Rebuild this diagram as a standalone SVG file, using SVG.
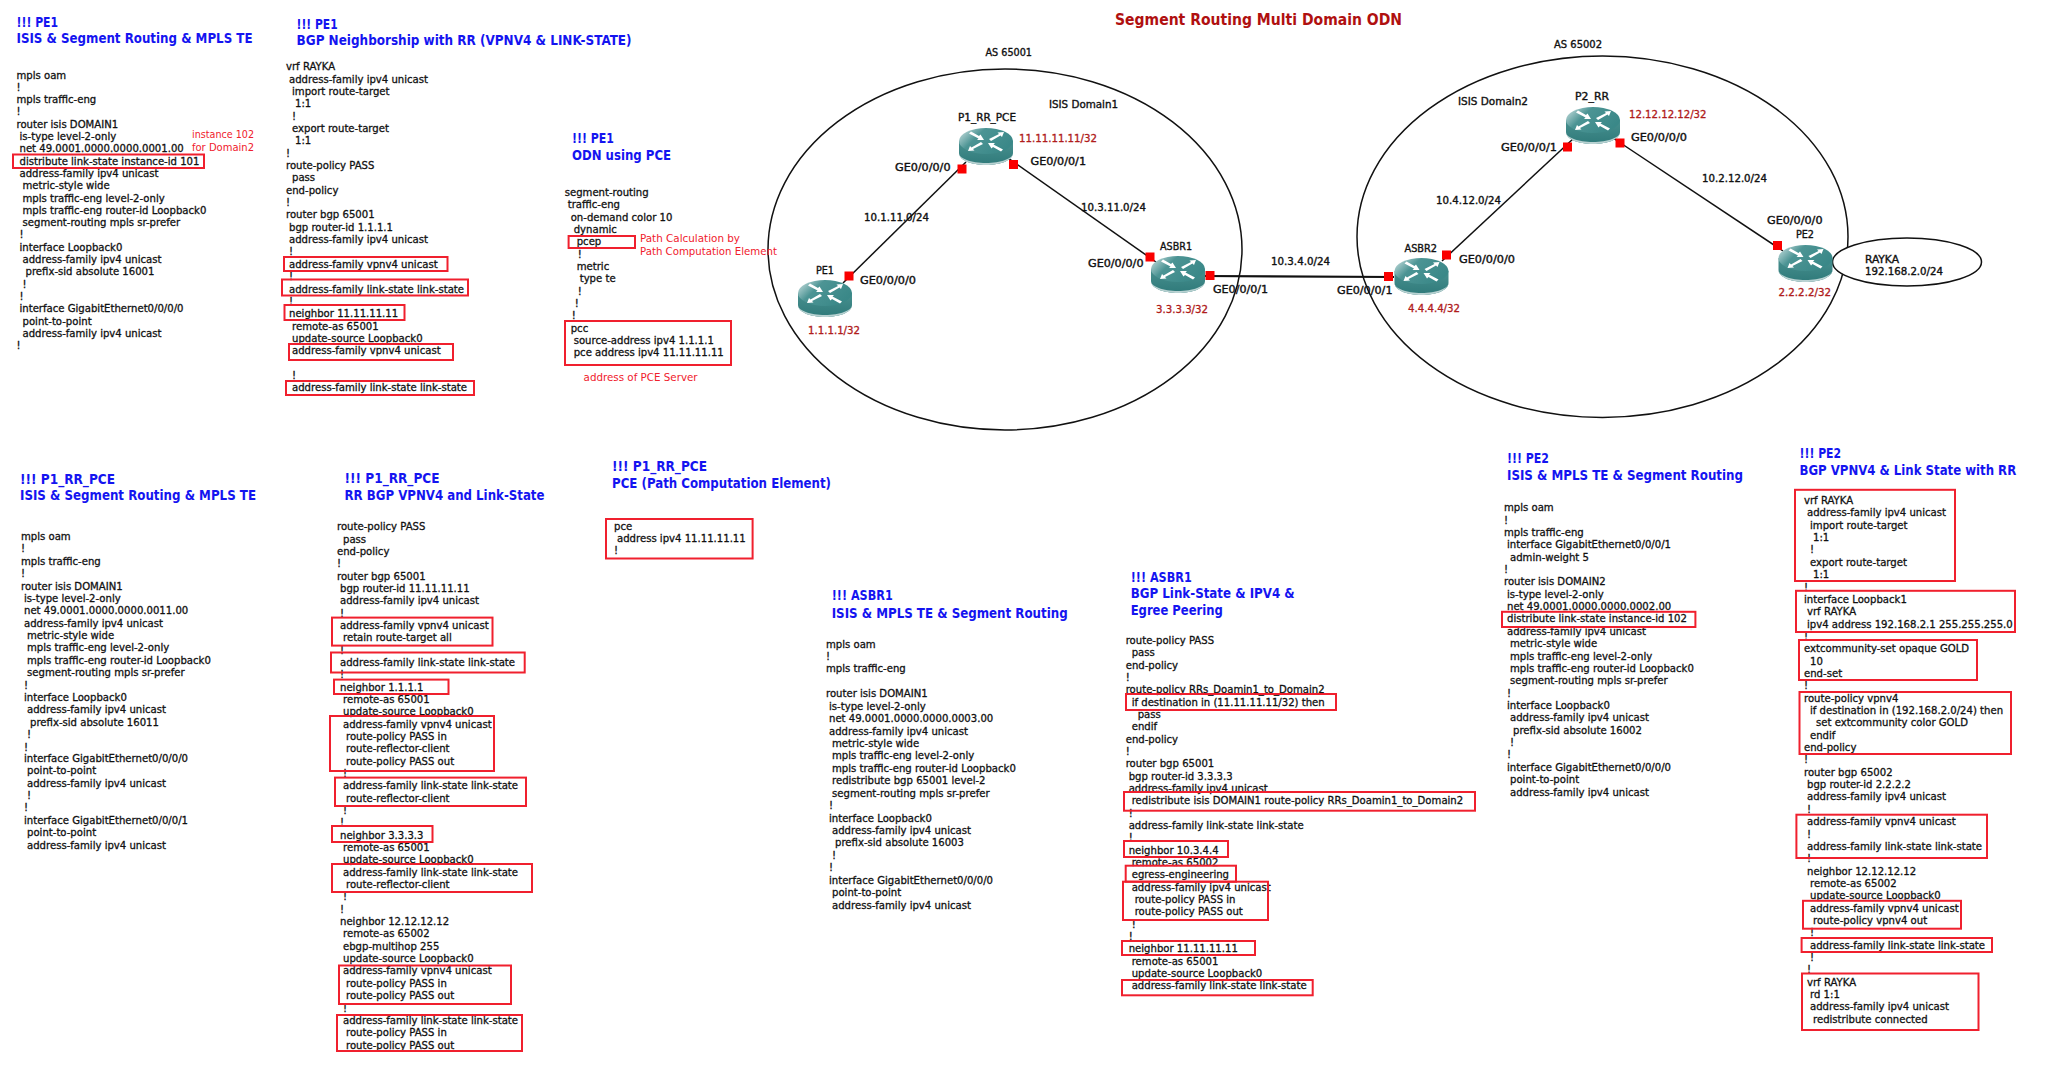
<svg xmlns="http://www.w3.org/2000/svg" width="2048" height="1074" viewBox="0 0 2048 1074" xml:space="default">
<style>
text{font-family:"DejaVu Sans Condensed","DejaVu Sans","Liberation Sans",sans-serif;font-stretch:condensed}
.c{font-family:"DejaVu Sans","Liberation Sans",sans-serif;font-stretch:normal;font-size:10.1px;fill:#111;stroke:#111;stroke-width:.3px}
.t{font-size:14px;font-weight:bold;fill:#1414f0}
.n{font-size:10.6px;fill:#111;stroke:#111;stroke-width:.35px}
.ip{font-size:10.6px;fill:#b01c1c;stroke:#b01c1c;stroke-width:.3px}
.r{font-size:10.6px;fill:#f0202c}
.b{fill:none;stroke:#f0202e;stroke-width:2}
.l{stroke:#111;stroke-width:1.5;fill:none}
.e{stroke:#111;stroke-width:1.5;fill:none}
.p{fill:#fa0000}
</style>
<defs>
<linearGradient id="rg" x1="0" y1="0" x2="1" y2=".5"><stop offset="0" stop-color="#d4e6e6"/><stop offset=".4" stop-color="#4c9494"/><stop offset="1" stop-color="#3a8888"/></linearGradient>
<linearGradient id="rb" x1="0" y1="0" x2="0" y2="1"><stop offset="0" stop-color="#48908f"/><stop offset="1" stop-color="#2f7a7a"/></linearGradient>
<g id="router">
<path d="M0 13V25C0 32 12 37 27 37S54 32 54 25V13Z" fill="url(#rb)"/>
<path d="M0 25C0 32 12 37 27 37S54 32 54 25C54 30.500 42 35 27 35S0 30.500 0 25Z" fill="#b9d2d2"/>
<ellipse cx="27" cy="13" rx="27" ry="13" fill="url(#rg)"/>
<path d="M10 5.500L12 3.500L20 8L21.500 6.500L25 12L18 12L19.500 10.500ZM44 21.500L42 23.500L34 19L32.500 20.500L29 15L36 15L34.500 16.500ZM30 11L40 6L38.500 4.500L45 4L43 9L41.500 7.500L32 13ZM24 16L14 21L15.500 22.500L9 23L11 18L12.500 19.500L22 14Z" fill="#fff"/>
</g>
</defs>
<rect width="2048" height="1074" fill="#fff"/>

<g id="title"><text x="1115" y="25" style="font-size:15.5px;font-weight:bold;fill:#b01010" textLength="287" lengthAdjust="spacingAndGlyphs">Segment Routing Multi Domain ODN</text></g>

<g id="as65001"><ellipse class="e" cx="1005" cy="249.5" rx="237" ry="180.5"/><text class="n" x="985.5" y="56" textLength="46.5" lengthAdjust="spacingAndGlyphs">AS 65001</text><text class="n" x="1049" y="107.5" textLength="69" lengthAdjust="spacingAndGlyphs">ISIS Domain1</text></g>
<g id="as65002"><ellipse class="e" cx="1602.5" cy="236.7" rx="245.5" ry="180.7"/><text class="n" x="1554" y="47.5" textLength="48" lengthAdjust="spacingAndGlyphs">AS 65002</text><text class="n" x="1458" y="104.5" textLength="70" lengthAdjust="spacingAndGlyphs">ISIS Domain2</text></g>
<g id="rayka"><ellipse cx="1907" cy="262" rx="74.5" ry="24" fill="#fff" stroke="#111" stroke-width="1.5"/><text class="n" x="1865" y="262.5" textLength="34" lengthAdjust="spacingAndGlyphs">RAYKA</text><text class="n" x="1865" y="274.5" textLength="78" lengthAdjust="spacingAndGlyphs">192.168.2.0/24</text></g>

<g id="connectors">
<line class="l" x1="843" y1="283" x2="966" y2="162"/>
<line class="l" x1="1008" y1="158" x2="1156" y2="262"/>
<line class="l" style="stroke-width:2.2" x1="1204" y1="276" x2="1394" y2="277"/>
<line class="l" x1="1442" y1="261" x2="1574" y2="138"/>
<line class="l" x1="1613" y1="138" x2="1783" y2="251"/>
</g>

<g id="PE1"><use href="#router" x="798" y="280"/><text class="n" x="816" y="273.5" textLength="18" lengthAdjust="spacingAndGlyphs">PE1</text><text class="ip" x="808" y="333.5" textLength="52" lengthAdjust="spacingAndGlyphs">1.1.1.1/32</text></g>
<g id="P1_RR_PCE"><use href="#router" x="959" y="128"/><text class="n" x="958" y="120.5" textLength="58" lengthAdjust="spacingAndGlyphs">P1_RR_PCE</text><text class="ip" x="1019" y="141.5" textLength="78" lengthAdjust="spacingAndGlyphs">11.11.11.11/32</text></g>
<g id="ASBR1"><use href="#router" x="1151" y="256"/><text class="n" x="1160" y="249.5" textLength="32" lengthAdjust="spacingAndGlyphs">ASBR1</text><text class="ip" x="1156" y="312.5" textLength="52" lengthAdjust="spacingAndGlyphs">3.3.3.3/32</text></g>
<g id="ASBR2"><use href="#router" x="1394.5" y="258"/><text class="n" x="1404.5" y="251.5" textLength="32.5" lengthAdjust="spacingAndGlyphs">ASBR2</text><text class="ip" x="1408" y="311.5" textLength="52" lengthAdjust="spacingAndGlyphs">4.4.4.4/32</text></g>
<g id="P2_RR"><use href="#router" x="1566" y="107"/><text class="n" x="1575" y="99.5" textLength="34" lengthAdjust="spacingAndGlyphs">P2_RR</text><text class="ip" x="1629" y="117.5" textLength="77.5" lengthAdjust="spacingAndGlyphs">12.12.12.12/32</text></g>
<g id="PE2"><use href="#router" x="1778.5" y="245"/><text class="n" x="1796" y="237.5" textLength="18" lengthAdjust="spacingAndGlyphs">PE2</text><text class="ip" x="1778.5" y="295.5" textLength="52.5" lengthAdjust="spacingAndGlyphs">2.2.2.2/32</text></g>

<g id="ports">
<rect class="p" x="957.5" y="164.5" width="9" height="9"/><rect class="p" x="1009" y="160" width="9" height="9"/><rect class="p" x="844.5" y="271.5" width="9" height="9"/><rect class="p" x="1145.5" y="252.5" width="9" height="9"/><rect class="p" x="1205.5" y="271" width="9" height="9"/><rect class="p" x="1384" y="272" width="9" height="9"/><rect class="p" x="1442" y="250.5" width="9" height="9"/><rect class="p" x="1563" y="142.5" width="9" height="9"/><rect class="p" x="1615.5" y="138.5" width="9" height="9"/><rect class="p" x="1773" y="241" width="9" height="9"/>
</g>

<g id="link-labels">
<text class="n" x="895" y="170.5" textLength="55.5" lengthAdjust="spacingAndGlyphs">GE0/0/0/0</text>
<text class="n" x="1030.5" y="164.5" textLength="55.5" lengthAdjust="spacingAndGlyphs">GE0/0/0/1</text>
<text class="n" x="864" y="220.5" textLength="65" lengthAdjust="spacingAndGlyphs">10.1.11.0/24</text>
<text class="n" x="1081" y="210.5" textLength="65" lengthAdjust="spacingAndGlyphs">10.3.11.0/24</text>
<text class="n" x="1088" y="266.5" textLength="55.5" lengthAdjust="spacingAndGlyphs">GE0/0/0/0</text>
<text class="n" x="1271" y="264.5" textLength="59" lengthAdjust="spacingAndGlyphs">10.3.4.0/24</text>
<text class="n" x="1213" y="292.5" textLength="55" lengthAdjust="spacingAndGlyphs">GE0/0/0/1</text>
<text class="n" x="860" y="283.5" textLength="56" lengthAdjust="spacingAndGlyphs">GE0/0/0/0</text>
<text class="n" x="1631" y="140.5" textLength="56" lengthAdjust="spacingAndGlyphs">GE0/0/0/0</text>
<text class="n" x="1501" y="150.5" textLength="56" lengthAdjust="spacingAndGlyphs">GE0/0/0/1</text>
<text class="n" x="1436" y="203.5" textLength="65" lengthAdjust="spacingAndGlyphs">10.4.12.0/24</text>
<text class="n" x="1702" y="181.5" textLength="65" lengthAdjust="spacingAndGlyphs">10.2.12.0/24</text>
<text class="n" x="1767" y="223.5" textLength="55.5" lengthAdjust="spacingAndGlyphs">GE0/0/0/0</text>
<text class="n" x="1459" y="262.5" textLength="56" lengthAdjust="spacingAndGlyphs">GE0/0/0/0</text>
<text class="n" x="1337" y="293.5" textLength="55.5" lengthAdjust="spacingAndGlyphs">GE0/0/0/1</text>
</g>

<g id="cfg-pe1-isis">
<text class="t" x="16.5" y="27" textLength="41.6" lengthAdjust="spacingAndGlyphs">!!! PE1</text>
<text class="t" x="16.5" y="43" textLength="236" lengthAdjust="spacingAndGlyphs">ISIS &amp; Segment Routing &amp; MPLS TE</text>
<text class="c"><tspan x="16.5" y="78.500">mpls oam</tspan><tspan x="16.5" y="90.8">!</tspan><tspan x="16.5" y="103.1">mpls traffic-eng</tspan><tspan x="16.5" y="115.4">!</tspan><tspan x="16.5" y="127.7">router isis DOMAIN1</tspan><tspan x="19.5" y="140">is-type level-2-only</tspan><tspan x="19.5" y="152.3">net 49.0001.0000.0000.0001.00</tspan><tspan x="19.5" y="164.6">distribute link-state instance-id 101</tspan><tspan x="19.5" y="176.9">address-family ipv4 unicast</tspan><tspan x="22.5" y="189.2">metric-style wide</tspan><tspan x="22.5" y="201.5">mpls traffic-eng level-2-only</tspan><tspan x="22.5" y="213.8">mpls traffic-eng router-id Loopback0</tspan><tspan x="22.5" y="226.1">segment-routing mpls sr-prefer</tspan><tspan x="19.5" y="238.4">!</tspan><tspan x="19.5" y="250.7">interface Loopback0</tspan><tspan x="22.5" y="263">address-family ipv4 unicast</tspan><tspan x="25.5" y="275.3">prefix-sid absolute 16001</tspan><tspan x="22.5" y="287.6">!</tspan><tspan x="19.5" y="299.9">!</tspan><tspan x="19.5" y="312.2">interface GigabitEthernet0/0/0/0</tspan><tspan x="22.5" y="324.5">point-to-point</tspan><tspan x="22.5" y="336.8">address-family ipv4 unicast</tspan><tspan x="16.5" y="349.1">!</tspan></text>
<rect class="b" x="13" y="154.5" width="191" height="13.5"/>
<text class="r" x="192" y="137.5" textLength="62" lengthAdjust="spacingAndGlyphs">instance 102</text>
<text class="r" x="192" y="150.5" textLength="62" lengthAdjust="spacingAndGlyphs">for Domain2</text>
</g>

<g id="cfg-pe1-bgp">
<text class="t" x="296.6" y="29" textLength="41" lengthAdjust="spacingAndGlyphs">!!! PE1</text>
<text class="t" x="296.6" y="45" textLength="335" lengthAdjust="spacingAndGlyphs">BGP Neighborship with RR (VPNV4 &amp; LINK-STATE)</text>
<text class="c"><tspan x="286" y="70.2">vrf RAYKA</tspan><tspan x="289" y="82.55">address-family ipv4 unicast</tspan><tspan x="292" y="94.9">import route-target</tspan><tspan x="295" y="107.25">1:1</tspan><tspan x="292" y="119.6">!</tspan><tspan x="292" y="131.95">export route-target</tspan><tspan x="295" y="144.3">1:1</tspan><tspan x="286" y="156.65">!</tspan><tspan x="286" y="169">route-policy PASS</tspan><tspan x="292" y="181.35">pass</tspan><tspan x="286" y="193.7">end-policy</tspan><tspan x="286" y="206.05">!</tspan><tspan x="286" y="218.4">router bgp 65001</tspan><tspan x="289" y="230.75">bgp router-id 1.1.1.1</tspan><tspan x="289" y="243.1">address-family ipv4 unicast</tspan><tspan x="289" y="255.45">!</tspan><tspan x="289" y="267.8">address-family vpnv4 unicast</tspan><tspan x="289" y="280.15">!</tspan><tspan x="289" y="292.5">address-family link-state link-state</tspan><tspan x="289" y="304.85">!</tspan><tspan x="289" y="317.2">neighbor 11.11.11.11</tspan><tspan x="292" y="329.55">remote-as 65001</tspan><tspan x="292" y="341.9">update-source Loopback0</tspan><tspan x="292" y="354.25">address-family vpnv4 unicast</tspan><tspan x="292" y="378.95">!</tspan><tspan x="292" y="391.3">address-family link-state link-state</tspan></text>
<rect class="b" x="284" y="257" width="163.5" height="14"/><rect class="b" x="282" y="279.5" width="186" height="16"/><rect class="b" x="284.5" y="305" width="120" height="15"/><rect class="b" x="289" y="344" width="164" height="16"/><rect class="b" x="286" y="381" width="188" height="14"/>
</g>

<g id="cfg-pe1-odn">
<text class="t" x="572" y="143" textLength="42" lengthAdjust="spacingAndGlyphs">!!! PE1</text>
<text class="t" x="572" y="160" textLength="99" lengthAdjust="spacingAndGlyphs">ODN using PCE</text>
<text class="c"><tspan x="564.7" y="195.8">segment-routing</tspan><tspan x="567.7" y="208.1">traffic-eng</tspan><tspan x="570.7" y="220.5">on-demand color 10</tspan><tspan x="573.7" y="232.8">dynamic</tspan><tspan x="576.7" y="245.2">pcep</tspan><tspan x="577.7" y="257.5">!</tspan><tspan x="576.7" y="269.9">metric</tspan><tspan x="579.7" y="282.2">type te</tspan><tspan x="577.7" y="294.6">!</tspan><tspan x="574.7" y="306.9">!</tspan><tspan x="571.7" y="319.3">!</tspan><tspan x="570.7" y="331.6">pcc</tspan><tspan x="573.7" y="344">source-address ipv4 1.1.1.1</tspan><tspan x="573.7" y="356.3">pce address ipv4 11.11.11.11</tspan></text>
<rect class="b" x="568.6" y="236" width="66.4" height="12"/><rect class="b" x="565" y="321" width="166" height="44"/>
<text class="r" x="640" y="241.5" textLength="100" lengthAdjust="spacingAndGlyphs">Path Calculation by</text>
<text class="r" x="640" y="254.5" textLength="137" lengthAdjust="spacingAndGlyphs">Path Computation Element</text>
<text class="r" x="583.6" y="380.5" textLength="114" lengthAdjust="spacingAndGlyphs">address of PCE Server</text>
</g>

<g id="cfg-p1-isis">
<text class="t" x="20" y="484" textLength="95" lengthAdjust="spacingAndGlyphs">!!! P1_RR_PCE</text>
<text class="t" x="20" y="500" textLength="236" lengthAdjust="spacingAndGlyphs">ISIS &amp; Segment Routing &amp; MPLS TE</text>
<text class="c"><tspan x="21" y="540">mpls oam</tspan><tspan x="21" y="552.4">!</tspan><tspan x="21" y="564.8">mpls traffic-eng</tspan><tspan x="21" y="577.1">!</tspan><tspan x="21" y="589.5">router isis DOMAIN1</tspan><tspan x="24" y="601.9">is-type level-2-only</tspan><tspan x="24" y="614.3">net 49.0001.0000.0000.0011.00</tspan><tspan x="24" y="626.7">address-family ipv4 unicast</tspan><tspan x="27" y="639">metric-style wide</tspan><tspan x="27" y="651.4">mpls traffic-eng level-2-only</tspan><tspan x="27" y="663.8">mpls traffic-eng router-id Loopback0</tspan><tspan x="27" y="676.2">segment-routing mpls sr-prefer</tspan><tspan x="24" y="688.6">!</tspan><tspan x="24" y="700.9">interface Loopback0</tspan><tspan x="27" y="713.3">address-family ipv4 unicast</tspan><tspan x="30" y="725.7">prefix-sid absolute 16011</tspan><tspan x="27" y="738.1">!</tspan><tspan x="24" y="750.5">!</tspan><tspan x="24" y="761.8">interface GigabitEthernet0/0/0/0</tspan><tspan x="27" y="774.2">point-to-point</tspan><tspan x="27" y="786.6">address-family ipv4 unicast</tspan><tspan x="27" y="799">!</tspan><tspan x="24" y="811.4">!</tspan><tspan x="24" y="823.7">interface GigabitEthernet0/0/0/1</tspan><tspan x="27" y="836.1">point-to-point</tspan><tspan x="27" y="848.5">address-family ipv4 unicast</tspan></text>
</g>

<g id="cfg-p1-bgp">
<text class="t" x="344.5" y="483.4" textLength="95" lengthAdjust="spacingAndGlyphs">!!! P1_RR_PCE</text>
<text class="t" x="344.5" y="499.5" textLength="200" lengthAdjust="spacingAndGlyphs">RR BGP VPNV4 and Link-State</text>
<text class="c"><tspan x="337" y="530.2">route-policy PASS</tspan><tspan x="343" y="542.5">pass</tspan><tspan x="337" y="554.9">end-policy</tspan><tspan x="337" y="567.2">!</tspan><tspan x="337" y="579.6">router bgp 65001</tspan><tspan x="340" y="591.9">bgp router-id 11.11.11.11</tspan><tspan x="340" y="604.2">address-family ipv4 unicast</tspan><tspan x="340" y="616.6">!</tspan><tspan x="340" y="628.9">address-family vpnv4 unicast</tspan><tspan x="343" y="641.3">retain route-target all</tspan><tspan x="340" y="653.6">!</tspan><tspan x="340" y="665.9">address-family link-state link-state</tspan><tspan x="340" y="678.3">!</tspan><tspan x="340" y="690.6">neighbor 1.1.1.1</tspan><tspan x="343" y="703">remote-as 65001</tspan><tspan x="343" y="715.3">update-source Loopback0</tspan><tspan x="343" y="727.6">address-family vpnv4 unicast</tspan><tspan x="346" y="740">route-policy PASS in</tspan><tspan x="346" y="752.3">route-reflector-client</tspan><tspan x="346" y="764.7">route-policy PASS out</tspan><tspan x="343" y="777">!</tspan><tspan x="343" y="789.3">address-family link-state link-state</tspan><tspan x="346" y="801.7">route-reflector-client</tspan><tspan x="343" y="814">!</tspan><tspan x="340" y="826.4">!</tspan><tspan x="340" y="838.7">neighbor 3.3.3.3</tspan><tspan x="343" y="851">remote-as 65001</tspan><tspan x="343" y="863.4">update-source Loopback0</tspan><tspan x="343" y="875.7">address-family link-state link-state</tspan><tspan x="346" y="888.1">route-reflector-client</tspan><tspan x="343" y="900.4">!</tspan><tspan x="340" y="912.7">!</tspan><tspan x="340" y="925.1">neighbor 12.12.12.12</tspan><tspan x="343" y="937.4">remote-as 65002</tspan><tspan x="343" y="949.8">ebgp-multihop 255</tspan><tspan x="343" y="962.1">update-source Loopback0</tspan><tspan x="343" y="974.4">address-family vpnv4 unicast</tspan><tspan x="346" y="986.8">route-policy PASS in</tspan><tspan x="346" y="999.1">route-policy PASS out</tspan><tspan x="343" y="1011.5">!</tspan><tspan x="343" y="1023.8">address-family link-state link-state</tspan><tspan x="346" y="1036.1">route-policy PASS in</tspan><tspan x="346" y="1048.5">route-policy PASS out</tspan></text>
<rect class="b" x="332" y="617.6" width="160.5" height="28"/><rect class="b" x="331" y="652.5" width="193.7" height="20"/><rect class="b" x="334" y="679.6" width="114.5" height="14.4"/><rect class="b" x="330" y="716" width="164" height="55"/><rect class="b" x="335" y="777.6" width="191" height="28.4"/><rect class="b" x="332" y="826" width="100.5" height="16"/><rect class="b" x="332" y="864" width="200" height="28"/><rect class="b" x="339" y="965.5" width="172" height="38.5"/><rect class="b" x="337" y="1015" width="185" height="36"/>
</g>

<g id="cfg-p1-pce">
<text class="t" x="612" y="471" textLength="95" lengthAdjust="spacingAndGlyphs">!!! P1_RR_PCE</text>
<text class="t" x="612" y="488" textLength="219" lengthAdjust="spacingAndGlyphs">PCE (Path Computation Element)</text>
<text class="c"><tspan x="614" y="530">pce</tspan><tspan x="617" y="542">address ipv4 11.11.11.11</tspan><tspan x="614" y="554">!</tspan></text>
<rect class="b" x="606" y="519" width="146.6" height="39.5"/>
</g>

<g id="cfg-asbr1-isis">
<text class="t" x="831.7" y="600" textLength="61" lengthAdjust="spacingAndGlyphs">!!! ASBR1</text>
<text class="t" x="831.7" y="617.6" textLength="236" lengthAdjust="spacingAndGlyphs">ISIS &amp; MPLS TE &amp; Segment Routing</text>
<text class="c"><tspan x="826" y="647.5">mpls oam</tspan><tspan x="826" y="659.9">!</tspan><tspan x="826" y="672.4">mpls traffic-eng</tspan><tspan x="826" y="697.2">router isis DOMAIN1</tspan><tspan x="829" y="709.7">is-type level-2-only</tspan><tspan x="829" y="722.1">net 49.0001.0000.0000.0003.00</tspan><tspan x="829" y="734.5">address-family ipv4 unicast</tspan><tspan x="832" y="747">metric-style wide</tspan><tspan x="832" y="759.4">mpls traffic-eng level-2-only</tspan><tspan x="832" y="771.8">mpls traffic-eng router-id Loopback0</tspan><tspan x="832" y="784.2">redistribute bgp 65001 level-2</tspan><tspan x="832" y="796.7">segment-routing mpls sr-prefer</tspan><tspan x="829" y="809.1">!</tspan><tspan x="829" y="821.5">interface Loopback0</tspan><tspan x="832" y="834">address-family ipv4 unicast</tspan><tspan x="835" y="846.4">prefix-sid absolute 16003</tspan><tspan x="832" y="858.8">!</tspan><tspan x="829" y="871.2">!</tspan><tspan x="829" y="883.7">interface GigabitEthernet0/0/0/0</tspan><tspan x="832" y="896.1">point-to-point</tspan><tspan x="832" y="908.5">address-family ipv4 unicast</tspan></text>
</g>

<g id="cfg-asbr1-bgp">
<text class="t" x="1130.7" y="582" textLength="61" lengthAdjust="spacingAndGlyphs">!!! ASBR1</text>
<text class="t" x="1130.7" y="598" textLength="164" lengthAdjust="spacingAndGlyphs">BGP Link-State &amp; IPV4 &amp;</text>
<text class="t" x="1130.7" y="615" textLength="92" lengthAdjust="spacingAndGlyphs">Egree Peering</text>
<text class="c"><tspan x="1125.7" y="644">route-policy PASS</tspan><tspan x="1131.7" y="656.3">pass</tspan><tspan x="1125.7" y="668.7">end-policy</tspan><tspan x="1125.7" y="681">!</tspan><tspan x="1125.7" y="693.3">route-policy RRs_Doamin1_to_Domain2</tspan><tspan x="1131.7" y="705.7">if destination in (11.11.11.11/32) then</tspan><tspan x="1137.7" y="718">pass</tspan><tspan x="1131.7" y="730.3">endif</tspan><tspan x="1125.7" y="742.6">end-policy</tspan><tspan x="1125.7" y="755">!</tspan><tspan x="1125.7" y="767.3">router bgp 65001</tspan><tspan x="1128.7" y="779.6">bgp router-id 3.3.3.3</tspan><tspan x="1128.7" y="792">address-family ipv4 unicast</tspan><tspan x="1131.7" y="804.3">redistribute isis DOMAIN1 route-policy RRs_Doamin1_to_Domain2</tspan><tspan x="1128.7" y="816.6">!</tspan><tspan x="1128.7" y="829">address-family link-state link-state</tspan><tspan x="1128.7" y="841.3">!</tspan><tspan x="1128.7" y="853.6">neighbor 10.3.4.4</tspan><tspan x="1131.7" y="865.9">remote-as 65002</tspan><tspan x="1131.7" y="878.3">egress-engineering</tspan><tspan x="1131.7" y="890.6">address-family ipv4 unicast</tspan><tspan x="1134.7" y="902.9">route-policy PASS in</tspan><tspan x="1134.7" y="915.3">route-policy PASS out</tspan><tspan x="1131.7" y="927.6">!</tspan><tspan x="1128.7" y="939.9">!</tspan><tspan x="1128.7" y="952.3">neighbor 11.11.11.11</tspan><tspan x="1131.7" y="964.6">remote-as 65001</tspan><tspan x="1131.7" y="976.9">update-source Loopback0</tspan><tspan x="1131.7" y="989.2">address-family link-state link-state</tspan></text>
<rect class="b" x="1126" y="694" width="210" height="16"/><rect class="b" x="1124" y="792" width="351" height="18.7"/><rect class="b" x="1124" y="841" width="104" height="16"/><rect class="b" x="1125.7" y="865.7" width="110.3" height="16"/><rect class="b" x="1123" y="881.7" width="145" height="38.3"/><rect class="b" x="1122" y="941" width="133" height="14"/><rect class="b" x="1122" y="980" width="190.7" height="15.3"/>
</g>

<g id="cfg-pe2-isis">
<text class="t" x="1507" y="463.4" textLength="42" lengthAdjust="spacingAndGlyphs">!!! PE2</text>
<text class="t" x="1507" y="480" textLength="236" lengthAdjust="spacingAndGlyphs">ISIS &amp; MPLS TE &amp; Segment Routing</text>
<text class="c"><tspan x="1504" y="511.2">mpls oam</tspan><tspan x="1504" y="523.6">!</tspan><tspan x="1504" y="535.9">mpls traffic-eng</tspan><tspan x="1507" y="548.3">interface GigabitEthernet0/0/0/1</tspan><tspan x="1510" y="560.6">admin-weight 5</tspan><tspan x="1504" y="573">!</tspan><tspan x="1504" y="585.4">router isis DOMAIN2</tspan><tspan x="1507" y="597.7">is-type level-2-only</tspan><tspan x="1507" y="610.1">net 49.0001.0000.0000.0002.00</tspan><tspan x="1507" y="622.4">distribute link-state instance-id 102</tspan><tspan x="1507" y="634.8">address-family ipv4 unicast</tspan><tspan x="1510" y="647.2">metric-style wide</tspan><tspan x="1510" y="659.5">mpls traffic-eng level-2-only</tspan><tspan x="1510" y="671.9">mpls traffic-eng router-id Loopback0</tspan><tspan x="1510" y="684.2">segment-routing mpls sr-prefer</tspan><tspan x="1507" y="696.6">!</tspan><tspan x="1507" y="709">interface Loopback0</tspan><tspan x="1510" y="721.3">address-family ipv4 unicast</tspan><tspan x="1513" y="733.7">prefix-sid absolute 16002</tspan><tspan x="1510" y="746">!</tspan><tspan x="1507" y="758.4">!</tspan><tspan x="1507" y="770.8">interface GigabitEthernet0/0/0/0</tspan><tspan x="1510" y="783.1">point-to-point</tspan><tspan x="1510" y="795.5">address-family ipv4 unicast</tspan></text>
<rect class="b" x="1502" y="611.8" width="193.4" height="15.2"/>
</g>

<g id="cfg-pe2-bgp">
<text class="t" x="1799.5" y="458.4" textLength="41.6" lengthAdjust="spacingAndGlyphs">!!! PE2</text>
<text class="t" x="1799.5" y="474.5" textLength="216.7" lengthAdjust="spacingAndGlyphs">BGP VPNV4 &amp; Link State with RR</text>
<text class="c"><tspan x="1804" y="504">vrf RAYKA</tspan><tspan x="1807" y="516.4">address-family ipv4 unicast</tspan><tspan x="1810" y="528.7">import route-target</tspan><tspan x="1813" y="541.1">1:1</tspan><tspan x="1810" y="553.4">!</tspan><tspan x="1810" y="565.8">export route-target</tspan><tspan x="1813" y="578.1">1:1</tspan><tspan x="1804" y="590.5">!</tspan><tspan x="1804" y="602.8">interface Loopback1</tspan><tspan x="1807" y="615.2">vrf RAYKA</tspan><tspan x="1807" y="627.5">ipv4 address 192.168.2.1 255.255.255.0</tspan><tspan x="1804" y="639.9">!</tspan><tspan x="1804" y="652.2">extcommunity-set opaque GOLD</tspan><tspan x="1810" y="664.6">10</tspan><tspan x="1804" y="676.9">end-set</tspan><tspan x="1804" y="689.3">!</tspan><tspan x="1804" y="701.6">route-policy vpnv4</tspan><tspan x="1810" y="714">if destination in (192.168.2.0/24) then</tspan><tspan x="1816" y="726.3">set extcommunity color GOLD</tspan><tspan x="1810" y="738.7">endif</tspan><tspan x="1804" y="751">end-policy</tspan><tspan x="1804" y="763.4">!</tspan><tspan x="1804" y="775.7">router bgp 65002</tspan><tspan x="1807" y="788.1">bgp router-id 2.2.2.2</tspan><tspan x="1807" y="800.4">address-family ipv4 unicast</tspan><tspan x="1807" y="812.8">!</tspan><tspan x="1807" y="825.1">address-family vpnv4 unicast</tspan><tspan x="1807" y="837.5">!</tspan><tspan x="1807" y="849.8">address-family link-state link-state</tspan><tspan x="1807" y="862.2">!</tspan><tspan x="1807" y="874.5">neighbor 12.12.12.12</tspan><tspan x="1810" y="886.9">remote-as 65002</tspan><tspan x="1810" y="899.2">update-source Loopback0</tspan><tspan x="1810" y="911.6">address-family vpnv4 unicast</tspan><tspan x="1813" y="923.9">route-policy vpnv4 out</tspan><tspan x="1810" y="936.3">!</tspan><tspan x="1810" y="948.6">address-family link-state link-state</tspan><tspan x="1810" y="961">!</tspan><tspan x="1807" y="973.3">!</tspan><tspan x="1807" y="985.7">vrf RAYKA</tspan><tspan x="1810" y="998">rd 1:1</tspan><tspan x="1810" y="1010.4">address-family ipv4 unicast</tspan><tspan x="1813" y="1022.7">redistribute connected</tspan></text>
<rect class="b" x="1795" y="489.8" width="160" height="91.2"/><rect class="b" x="1796" y="590.8" width="219" height="41.2"/><rect class="b" x="1799" y="640" width="178" height="40"/><rect class="b" x="1799.5" y="692" width="211.5" height="62"/><rect class="b" x="1796.4" y="814.7" width="190.6" height="43.3"/><rect class="b" x="1803" y="900.8" width="158" height="27.9"/><rect class="b" x="1801.6" y="938" width="190.4" height="14"/><rect class="b" x="1802" y="973.5" width="176.5" height="56.5"/>
</g>
</svg>
